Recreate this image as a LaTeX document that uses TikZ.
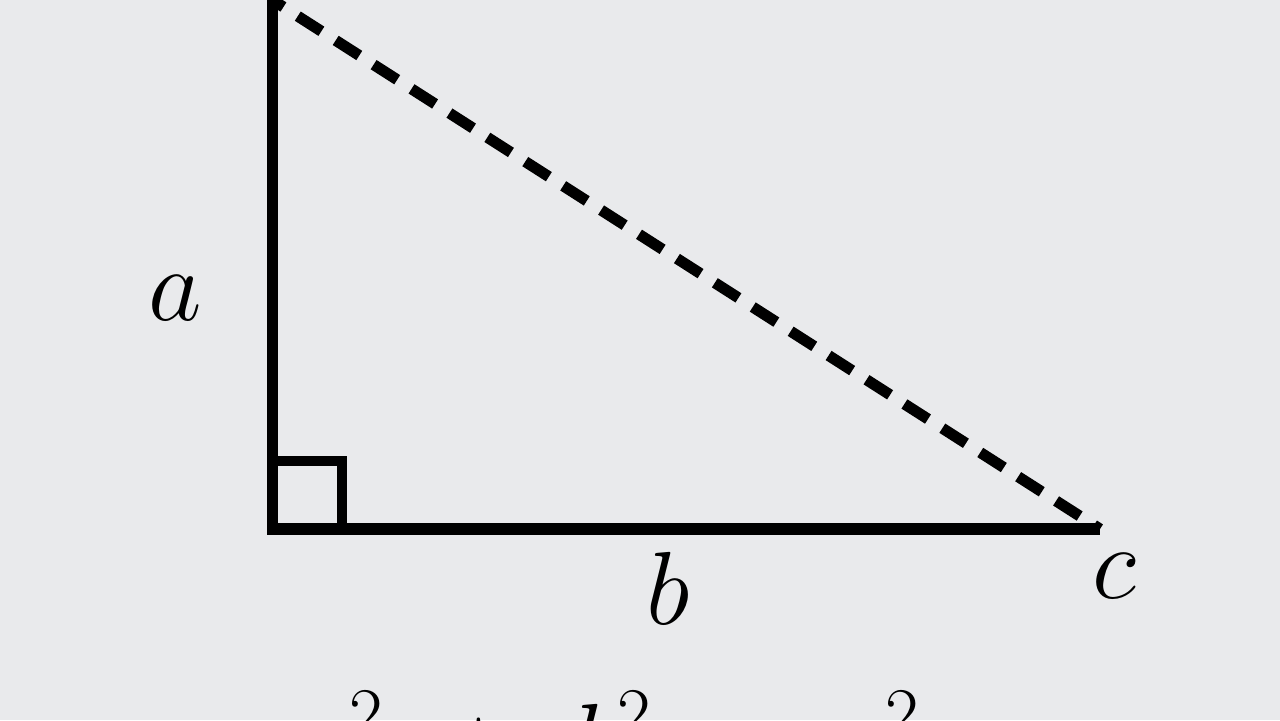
\RequirePackage{fix-cm}
\documentclass[tikz,border=0pt]{standalone}
\usepackage{xcolor}
\definecolor{bgc}{RGB}{233,234,236}
\begin{document}
\begin{tikzpicture}[x=0.5pt,y=-0.5pt,
  leg/.style={line width=5.8pt,line join=miter,draw=black},
  sq/.style={line width=5pt,line join=miter,draw=black},
  hyp/.style={line width=5.5pt,draw=black,dash pattern=on 14pt off 8.5pt,dash phase=7.5pt},
  lbl/.style={inner sep=0pt,font=\fontsize{52}{60}\selectfont}]
\useasboundingbox (0,0) rectangle (1280,720);
\fill[bgc] (0,0) rectangle (1280,720);
\begin{scope}
\clip (0,0) rectangle (1280,720);
\coordinate (A) at (272.5,-20);
\coordinate (Atop) at (272.5,0);
\coordinate (B) at (272.5,529);
\coordinate (C) at (1100,529);
\coordinate (S1) at (272.5,461);
\coordinate (S2) at (342,461);
\coordinate (S3) at (342,529);
\draw[leg] (A) -- (B) -- (C);
\draw[sq] (S1) -- (S2) -- (S3);
\draw[hyp] (Atop) -- (C);
\node[lbl] (la) at (175,298) {$a$};
\node[lbl] (lb) at (668,588) {$b$};
\node[lbl] (lc) at (1114,576) {$c$};
\node[lbl,anchor=base] (eq) at (608,776) {\medmuskip=10mu\thickmuskip=10mu$a^2+b^2=c^2$};
\end{scope}
\end{tikzpicture}
\end{document}
